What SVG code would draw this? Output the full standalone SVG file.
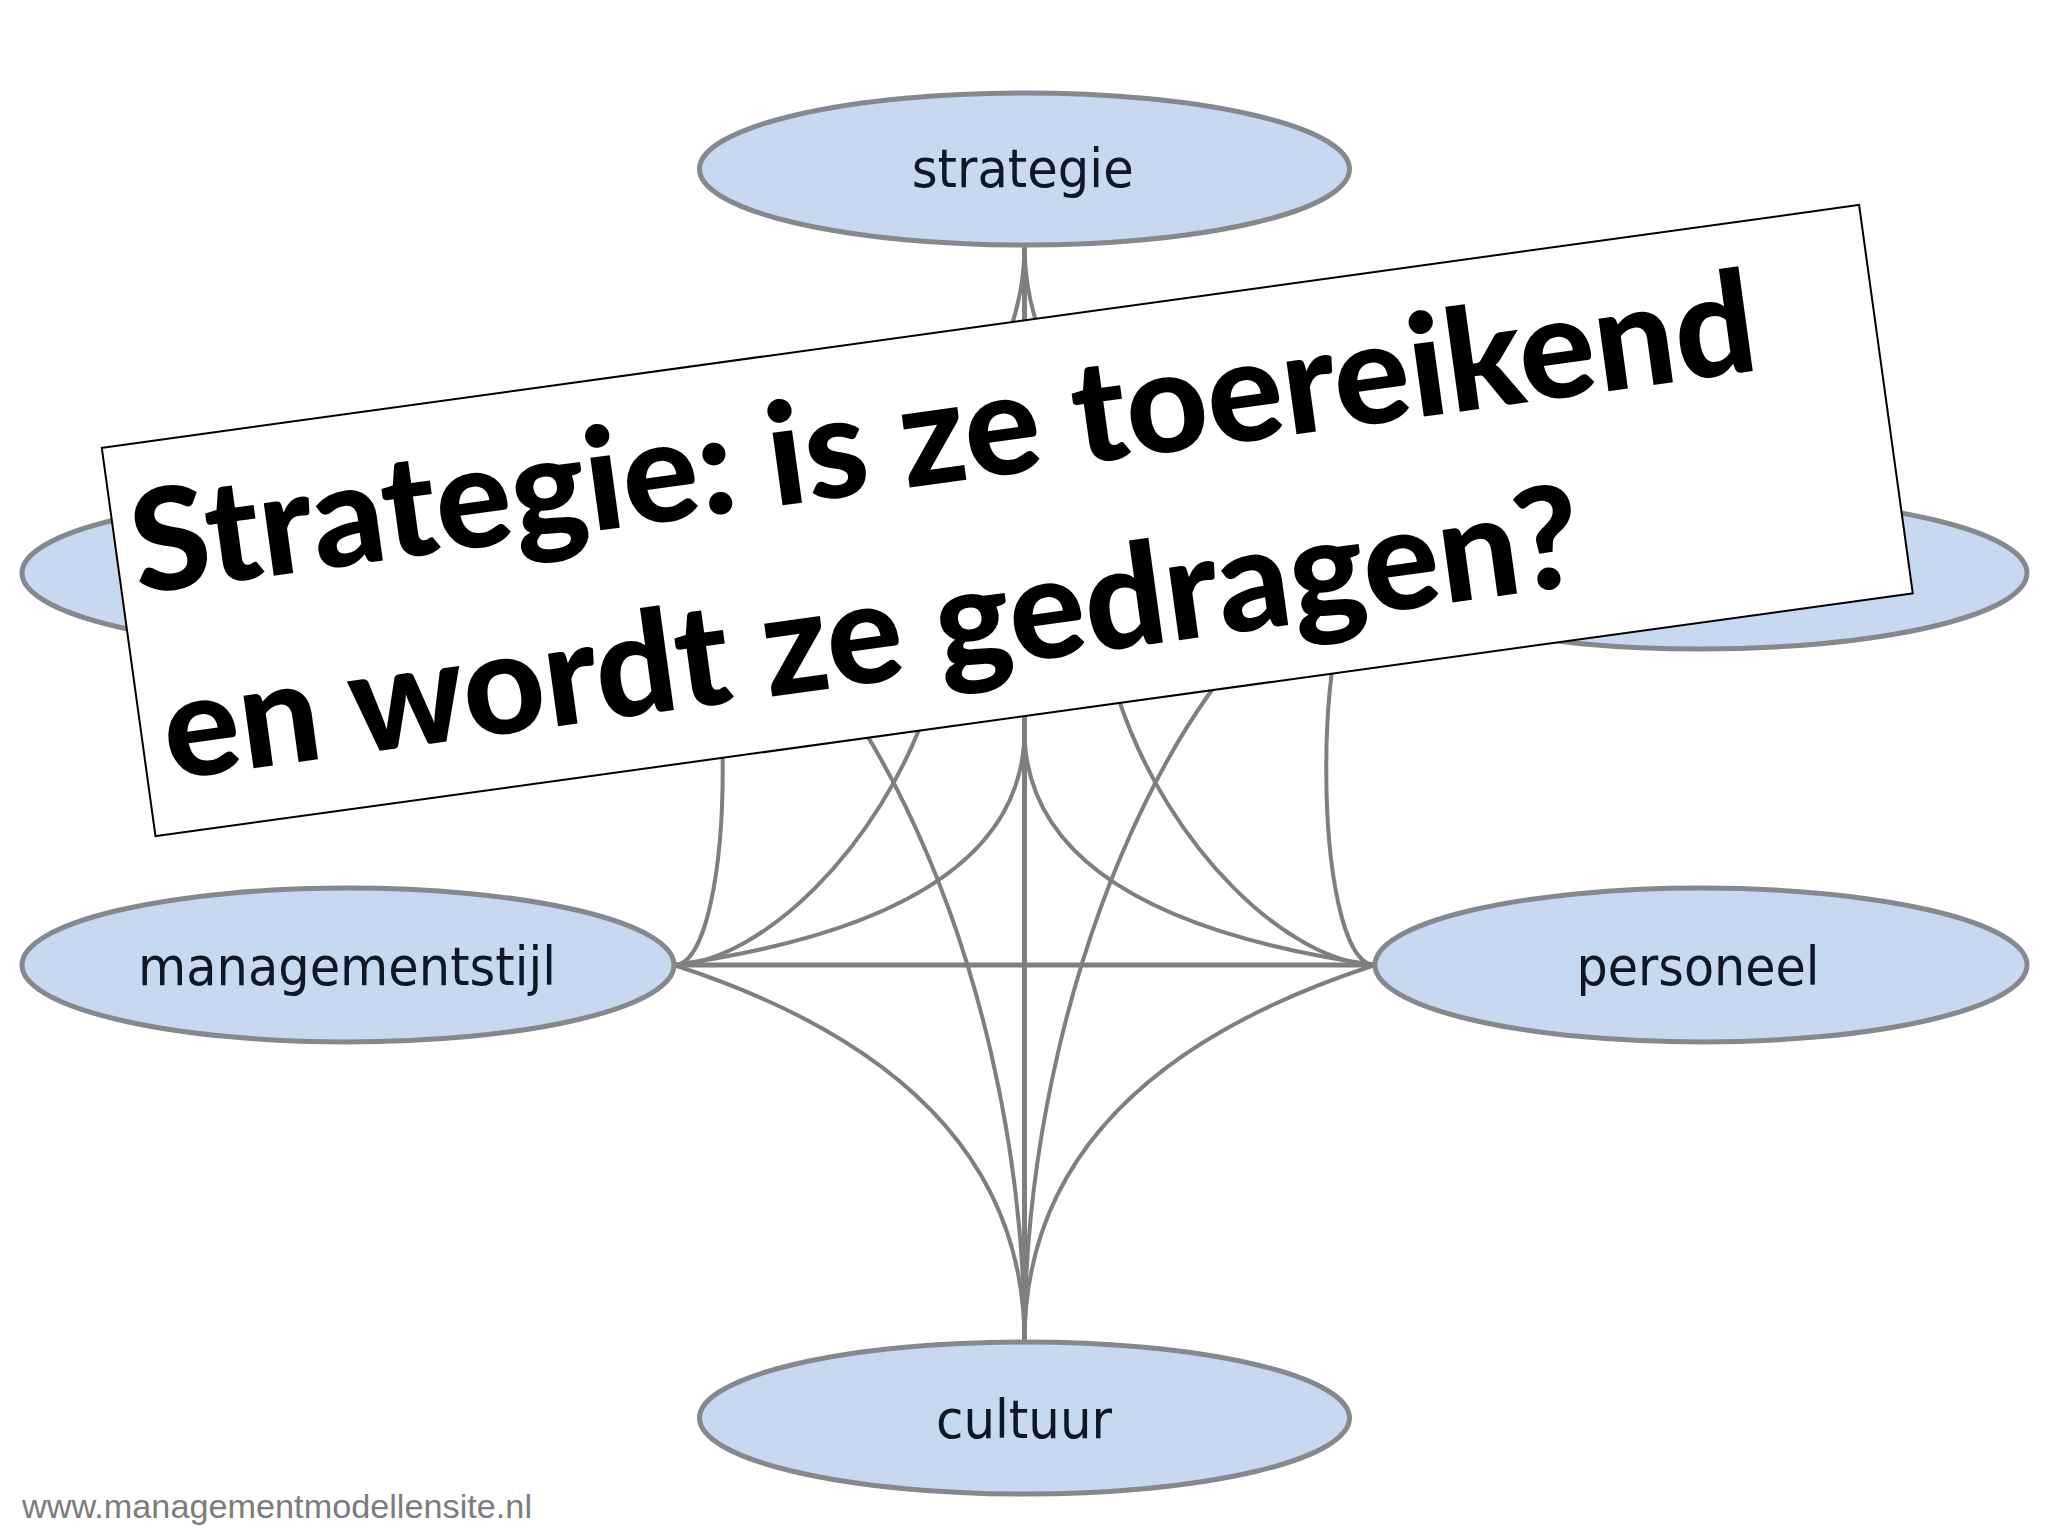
<svg xmlns="http://www.w3.org/2000/svg" width="2048" height="1536" viewBox="0 0 2048 1536">
  <style>
    .node ellipse { fill: #c6d9f1; stroke: #85888c; stroke-width: 5; }
    .node text { font-family: "DejaVu Sans", "Liberation Sans", sans-serif; font-size: 53px; fill: #0f1726; }
    .conn { fill: none; stroke: #7f7f7f; stroke-width: 4; }
    .straight { stroke-width: 5; }
    .banner-text { font-family: Lato, "Open Sans", "Liberation Sans", sans-serif; font-weight: 900; font-size: 142px; fill: #000; }
    .watermark { font-family: "Liberation Sans", Arial, sans-serif; font-size: 34px; fill: #7c7c7c; }
  </style>
  <rect x="0" y="0" width="2048" height="1536" fill="#ffffff"/>

  <g id="connectors">
    <path class="conn straight" d="M1024.5,245 V1342"/>
    <path class="conn straight" d="M674,965 H1375"/>
    <path class="conn" d="M674,573 H1375"/>
    <path class="conn" d="M1024.5,245 L1024.5,730 Q1024.5,915 674,965"/>
    <path class="conn" d="M1024.5,245 L1024.5,730 Q1024.5,915 1375,965"/>
    <path class="conn" d="M674,965 Q1024.5,1079 1024.5,1342"/>
    <path class="conn" d="M1375,965 Q1024.5,1079 1024.5,1342"/>
    <path class="conn" d="M674,573 C739,573 739,965 674,965"/>
    <path class="conn" d="M1375,573 C1310,573 1310,965 1375,965"/>
    <path class="conn" d="M674,573 C824,573 1024.5,939 1024.5,1342"/>
    <path class="conn" d="M1375,573 C1225,573 1024.5,939 1024.5,1342"/>
    <path class="conn" d="M674,965 C760,962 880,850 930,700 C950,640 1200,573 1375,573"/>
    <path class="conn" d="M1375,965 C1289,962 1169,850 1119,700 C1099,640 849,573 674,573"/>
    <path class="conn" d="M1024.5,245 C1024.5,430 824,573 674,573"/>
    <path class="conn" d="M1024.5,245 C1024.5,430 1225,573 1375,573"/>
  </g>

  <g id="node-strategie" class="node">
    <ellipse cx="1024.5" cy="169" rx="325" ry="76"/>
    <text x="911.7" y="187" textLength="222" lengthAdjust="spacingAndGlyphs">strategie</text>
  </g>
  <g id="node-upper-left" class="node">
    <ellipse cx="348" cy="573" rx="326" ry="76"/>
  </g>
  <g id="node-upper-right" class="node">
    <ellipse cx="1701" cy="573" rx="326" ry="76"/>
  </g>
  <g id="node-managementstijl" class="node">
    <ellipse cx="348" cy="965" rx="326" ry="77"/>
    <text x="138" y="985" textLength="418" lengthAdjust="spacingAndGlyphs">managementstijl</text>
  </g>
  <g id="node-personeel" class="node">
    <ellipse cx="1701" cy="965" rx="326" ry="77"/>
    <text x="1576.5" y="985" textLength="243" lengthAdjust="spacingAndGlyphs">personeel</text>
  </g>
  <g id="node-cultuur" class="node">
    <ellipse cx="1024.5" cy="1418" rx="325" ry="76"/>
    <text x="936" y="1438" textLength="176" lengthAdjust="spacingAndGlyphs">cultuur</text>
  </g>

  <g id="banner" transform="translate(101.8,447.9) rotate(-7.87)">
    <rect x="0" y="0" width="1774" height="392" fill="#ffffff" stroke="#000000" stroke-width="2"/>
    <text class="banner-text" x="16" y="150" textLength="1638" lengthAdjust="spacingAndGlyphs">Strategie: is ze toereikend</text>
    <text class="banner-text" x="22" y="338" textLength="1430" lengthAdjust="spacingAndGlyphs">en wordt ze gedragen?</text>
  </g>

  <text id="watermark" class="watermark" x="22" y="1518" textLength="510" lengthAdjust="spacingAndGlyphs">www.managementmodellensite.nl</text>
</svg>
